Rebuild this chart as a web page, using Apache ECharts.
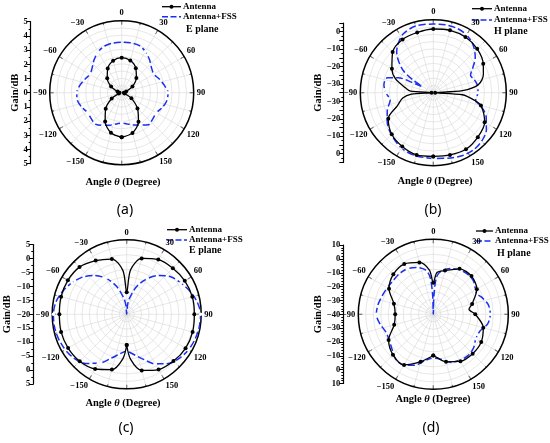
<!DOCTYPE html>
<html>
<head>
<meta charset="utf-8">
<script src="https://cdn.jsdelivr.net/npm/echarts@6/dist/echarts.min.js"></script>
<style>
  html, body { margin: 0; padding: 0; background: #fff; }
  #chart { width: 550px; height: 443px; }
</style>
</head>
<body>
<div id="chart"></div>
<script>
const SERIF = '"Liberation Serif", "Times New Roman", serif'
const BLUE = '#1a2ff0'

// (a) E plane
const antAngA = [-180, -165, -150, -135, -120, -105, -90, -75, -60, -45, -30, -15, 0, 15, 30, 45, 60, 75, 90, 105, 120, 135, 150, 165, 180]
const antValA = [3.10, 2.88, 2.30, 1.57, 0.80, 0.22, 0.15, 0.30, 0.85, 1.42, 1.94, 2.30, 2.43, 2.31, 1.96, 1.44, 0.86, 0.32, 0.15, 0.21, 0.78, 1.55, 2.33, 2.89, 3.10]
const fssAngA = [-180, -170, -160, -150, -140, -130, -120, -110, -100, -90, -80, -70, -60, -50, -40, -30, -20, -10, 0, 10, 20, 30, 40, 50, 60, 70, 80, 90, 100, 110, 120, 130, 140, 150, 160, 170, 180]
const fssValA = [2.10, 2.20, 2.40, 2.62, 2.85, 2.78, 2.74, 2.95, 3.12, 3.12, 2.95, 2.72, 2.55, 2.68, 2.98, 3.28, 3.45, 3.50, 3.50, 3.52, 3.50, 3.30, 3.00, 2.70, 2.58, 2.78, 3.00, 3.22, 3.18, 3.00, 2.78, 2.82, 2.90, 2.60, 2.38, 2.20, 2.10]

// (b) H plane
const antAngB = [-180, -165, -150, -135, -120, -110, -100, -94, -90, -86, -80, -70, -60, -45, -30, -15, 0, 15, 30, 45, 60, 70, 80, 86, 90, 94, 100, 105, 120, 135, 150, 165, 180]
const antValB = [-0.1, 0.3, -1.0, -2.8, -6.5, -14, -18, -23, -34, -22.5, -19.5, -13, -8.8, -3.5, -1.3, -0.85, -0.1, 0.4, 0.2, -1.0, -3.4, -5.8, -10, -19, -34, -19, -12.5, -8, -2.5, -0.5, 0.8, 0.3, -0.1]
const fssAngB = [-180, -165, -150, -135, -122, -111, -100, -90, -81, -72, -67, -64, -61, -58, -54, -48, -42, -35, -27, -15, 0, 10, 20, 30, 40, 50, 58, 65, 72, 80, 90, 100, 106, 115, 125, 135, 145, 155, 165, 180]
const fssValB = [1.0, 0.9, 0.0, -2.5, -5.2, -8.0, -11.0, -9.0, -7.6, -8.6, -14, -24, -28, -22, -15, -9.5, -5.0, -1.7, 1.2, 2.8, 2.6, 2.8, 2.6, 1.5, -1.0, -5.0, -9.5, -12.5, -11.5, -10.5, -10.5, -11.5, -7.5, -3.0, 0.5, 2.5, 3.3, 3.0, 2.0, 1.0]

// (c) E plane
const antAngC = [-180, -175, -165, -150, -135, -120, -105, -90, -75, -60, -45, -30, -15, -5, 0, 5, 15, 30, 45, 60, 75, 90, 105, 120, 135, 150, 165, 175, 180]
const antValC = [-9.7, -5.0, -0.8, 1.2, 2.3, 2.7, 2.8, 2.6, 2.8, 2.8, 2.4, 0.8, -0.8, -5.2, -12.6, -5.0, -0.6, 1.2, 1.9, 2.5, 2.8, 2.7, 2.9, 2.8, 2.2, 1.4, -0.5, -4.8, -9.7]
const fssAngC = [-180, -170, -160, -150, -140, -130, -120, -110, -100, -90, -80, -70, -60, -50, -40, -30, -20, -10, -5, 0, 5, 10, 20, 30, 40, 50, 60, 70, 80, 90, 100, 110, 120, 130, 140, 150, 160, 170, 180]
const fssValC = [-7.8, -6.5, -4.2, -1.0, 1.5, 3.0, 3.8, 4.3, 4.6, 4.6, 4.1, 2.8, 1.2, -0.6, -3.0, -6.0, -10.0, -14.5, -17.0, -20, -17.0, -14.5, -10.0, -6.2, -3.0, -0.5, 1.0, 2.6, 4.0, 4.8, 4.7, 4.4, 3.9, 3.0, 1.6, -0.8, -4.0, -6.3, -7.8]

// (d) H plane
const antAngD = [-180, -165, -150, -135, -120, -105, -90, -75, -60, -45, -30, -15, -5, 0, 5, 15, 30, 45, 60, 75, 82, 90, 105, 120, 135, 150, 165, 175, 180]
const antValD = [-12.5, -7.3, -1.0, -1.9, -5.6, -13.0, -14.6, -12.8, -5.9, -2.3, -1.3, -4.2, -10.5, -19, -12, -9.8, -5.0, -4.0, -6.5, -13.2, -16, -12, -5.5, -3.1, -2.9, -3.9, -7.2, -11, -12.5]
const fssAngD = [-180, -170, -160, -150, -140, -130, -120, -110, -100, -90, -80, -70, -60, -50, -40, -30, -20, -10, -5, -2, 0, 2, 5, 10, 20, 30, 40, 50, 60, 65, 70, 80, 90, 100, 110, 120, 130, 140, 150, 160, 170, 180]
const fssValD = [-11, -8.8, -3.8, -0.9, -1.0, -4.0, -6.0, -6.2, -3.8, -2.0, -2.6, -3.8, -4.6, -5.0, -4.7, -5.0, -6.8, -10, -15, -27, -40, -27, -15, -11, -7.5, -5.6, -4.8, -5.2, -7.5, -8.0, -6.0, -2.8, -2.0, -3.2, -7.0, -7.3, -5.0, -4.0, -4.6, -6.0, -9.5, -11]

const angleTicks = [-150, -120, -90, -60, -30, 0, 30, 60, 90, 120, 150, 180]

// layout of the four sub-plots
const panels = [
  { letter: '(a)', plane: 'E plane', center: [121.7, 92.7], radius: 72, rMin: 0, rMax: 5, ring: 0.5,
    axisX: 30.7, half: 71, tick: 1, minor: 2, labStep: 1, gainX: 15,
    title: [123, 182.7], letterPos: [125, 210],
    leg: { x1: 162, x2: 181, tx: 183, y1: 6.7, y2: 16.7, px: 186, py: 29 },
    ant: [antAngA, antValA], fss: [fssAngA, fssValA] },
  { letter: '(b)', plane: 'H plane', center: [433.3, 92.7], radius: 73, rMin: -35, rMax: 5, ring: 4,
    axisX: 343.3, half: 69.7, tick: 5, minor: 2, labStep: 10, gainX: 318,
    title: [435, 181.7], letterPos: [433, 210],
    leg: { x1: 472, x2: 492, tx: 494, y1: 8.7, y2: 20, px: 494, py: 31.7 },
    ant: [antAngB, antValB], fss: [fssAngB, fssValB] },
  { letter: '(c)', plane: 'E plane', center: [126.7, 314.3], radius: 74.5, rMin: -20, rMax: 5, ring: 2.5,
    axisX: 33.3, half: 69.8, tick: 5, minor: 2, labStep: 5, gainX: 7.5,
    title: [123, 403.3], letterPos: [126, 428],
    leg: { x1: 167, x2: 187, tx: 189, y1: 229.7, y2: 240, px: 189, py: 250.5 },
    ant: [antAngC, antValC], fss: [fssAngC, fssValC] },
  { letter: '(d)', plane: 'H plane', center: [433.3, 314.3], radius: 75, rMin: -40, rMax: 10, ring: 5,
    axisX: 343.3, half: 69.2, tick: 10, minor: 5, labStep: 10, gainX: 318,
    title: [433, 399], letterPos: [431, 428],
    leg: { x1: 476, x2: 493, tx: 495, y1: 231, y2: 241, px: 497, py: 253 },
    ant: [antAngD, antValD], fss: [fssAngD, fssValD] }
]

const minus = v => (v < 0 ? '\u2212' + (-v) : String(v))

const polar = [], angleAxis = [], radiusAxis = [], grid = [], xAxis = [], yAxis = [], series = [], graphic = []

panels.forEach((p, i) => {
  polar.push({ center: p.center, radius: p.radius })
  angleAxis.push({
    polarIndex: i, type: 'value', min: -180, max: 180, interval: 30,
    startAngle: 270, clockwise: true,
    axisLine: { lineStyle: { color: '#000', width: 1.5 } },
    axisTick: { show: true, inside: true, length: 4, lineStyle: { color: '#000', width: 1 } },
    minorTick: { show: true, splitNumber: 2, length: 2, lineStyle: { color: '#000' } },
    axisLabel: {
      margin: 3, color: '#000', fontFamily: SERIF, fontWeight: 'bold', fontSize: 8.5,
      formatter: v => (angleTicks.indexOf(v) < 0 ? '' : minus(v))
    },
    splitLine: { show: true, lineStyle: { color: '#d6d6d6', width: 0.6 } },
    minorSplitLine: { show: true, lineStyle: { color: '#d6d6d6', width: 0.6 } }
  })
  radiusAxis.push({
    polarIndex: i, type: 'value', min: p.rMin, max: p.rMax, interval: p.ring,
    axisLine: { show: false }, axisTick: { show: false }, axisLabel: { show: false },
    splitLine: { show: true, lineStyle: { color: '#d6d6d6', width: 0.6 } }
  })

  // mirrored gain scale on the left
  const R = p.rMax - p.rMin
  grid.push({ left: p.axisX, top: p.center[1] - p.half, width: 10, height: 2 * p.half })
  xAxis.push({ gridIndex: i, type: 'value', show: false, min: 0, max: 1 })
  yAxis.push({
    gridIndex: i, type: 'value', position: 'left', min: -R, max: R, interval: p.tick,
    axisLine: { show: true, lineStyle: { color: '#000', width: 1.2 } },
    axisTick: { show: true, length: 4, lineStyle: { color: '#000' } },
    minorTick: { show: true, splitNumber: p.minor, length: 2, lineStyle: { color: '#000' } },
    splitLine: { show: false },
    axisLabel: {
      margin: 3, color: '#000', fontFamily: SERIF, fontWeight: 'bold', fontSize: 8.5,
      formatter: v => {
        const lab = Math.round((p.rMin + Math.abs(v)) * 100) / 100
        return lab % p.labStep === 0 ? minus(lab) : ''
      }
    }
  })

  const [aa, av] = p.ant
  series.push({
    type: 'line', name: 'Antenna', coordinateSystem: 'polar', polarIndex: i,
    smooth: 0.3, animation: false, z: 4,
    lineStyle: { color: '#000', width: 1.3 },
    itemStyle: { color: '#000' },
    symbolSize: 4,
    data: av.map((v, k) => ({ value: [v, aa[k]], symbol: aa[k] % 15 === 0 ? 'circle' : 'none' }))
  })
  const [fa, fv] = p.fss
  series.push({
    type: 'line', name: 'Antenna+FSS', coordinateSystem: 'polar', polarIndex: i,
    smooth: 0.3, animation: false, z: 3,
    lineStyle: { color: BLUE, width: 1.5, type: [7, 3] },
    itemStyle: { color: '#fff', borderWidth: 0 },
    symbolSize: 3.5,
    data: fv.map((v, k) => ({ value: [v, fa[k]], symbol: fa[k] % 30 === 0 && fa[k] !== 0 ? 'circle' : 'none' }))
  })

  // legend, labels
  const L = p.leg
  const txt = (x, y, text, size, extra) => ({
    type: 'text', x, y, silent: true,
    style: Object.assign({ text, fill: '#000', fontFamily: SERIF, fontWeight: 'bold', fontSize: size, verticalAlign: 'middle' }, extra || {})
  })
  graphic.push(
    { type: 'line', shape: { x1: L.x1, y1: L.y1, x2: L.x2, y2: L.y1 }, style: { stroke: '#000', lineWidth: 1.3 } },
    { type: 'circle', shape: { cx: (L.x1 + L.x2) / 2, cy: L.y1, r: 2 }, style: { fill: '#000' } },
    txt(L.tx, L.y1, 'Antenna', 9),
    { type: 'line', shape: { x1: L.x1, y1: L.y2, x2: L.x2, y2: L.y2 }, style: { stroke: BLUE, lineWidth: 1.5, lineDash: [6, 2.5] } },
    txt(L.tx, L.y2, 'Antenna+FSS', 9),
    txt(L.px, L.py, p.plane, 10),
    txt(p.title[0], p.title[1], 'Angle {i|\u03b8} (Degree)', 10.5, {
      align: 'center',
      rich: { i: { fontStyle: 'italic', fontFamily: SERIF, fontWeight: 'bold', fontSize: 10.5, fill: '#000' } }
    }),
    Object.assign(txt(p.gainX, p.center[1], 'Gain/dB', 10.5, { align: 'center' }), { rotation: Math.PI / 2 }),
    {
      type: 'text', x: p.letterPos[0], y: p.letterPos[1], silent: true,
      style: { text: p.letter, fill: '#000', fontFamily: '"Noto Sans", sans-serif', fontSize: 14, align: 'center', verticalAlign: 'middle' }
    }
  )
})

const chart = echarts.init(document.getElementById('chart'), null, { renderer: 'canvas' })
chart.setOption({
  backgroundColor: '#fff',
  animation: false,
  polar, angleAxis, radiusAxis, grid, xAxis, yAxis, series, graphic
})
</script>
</body>
</html>
